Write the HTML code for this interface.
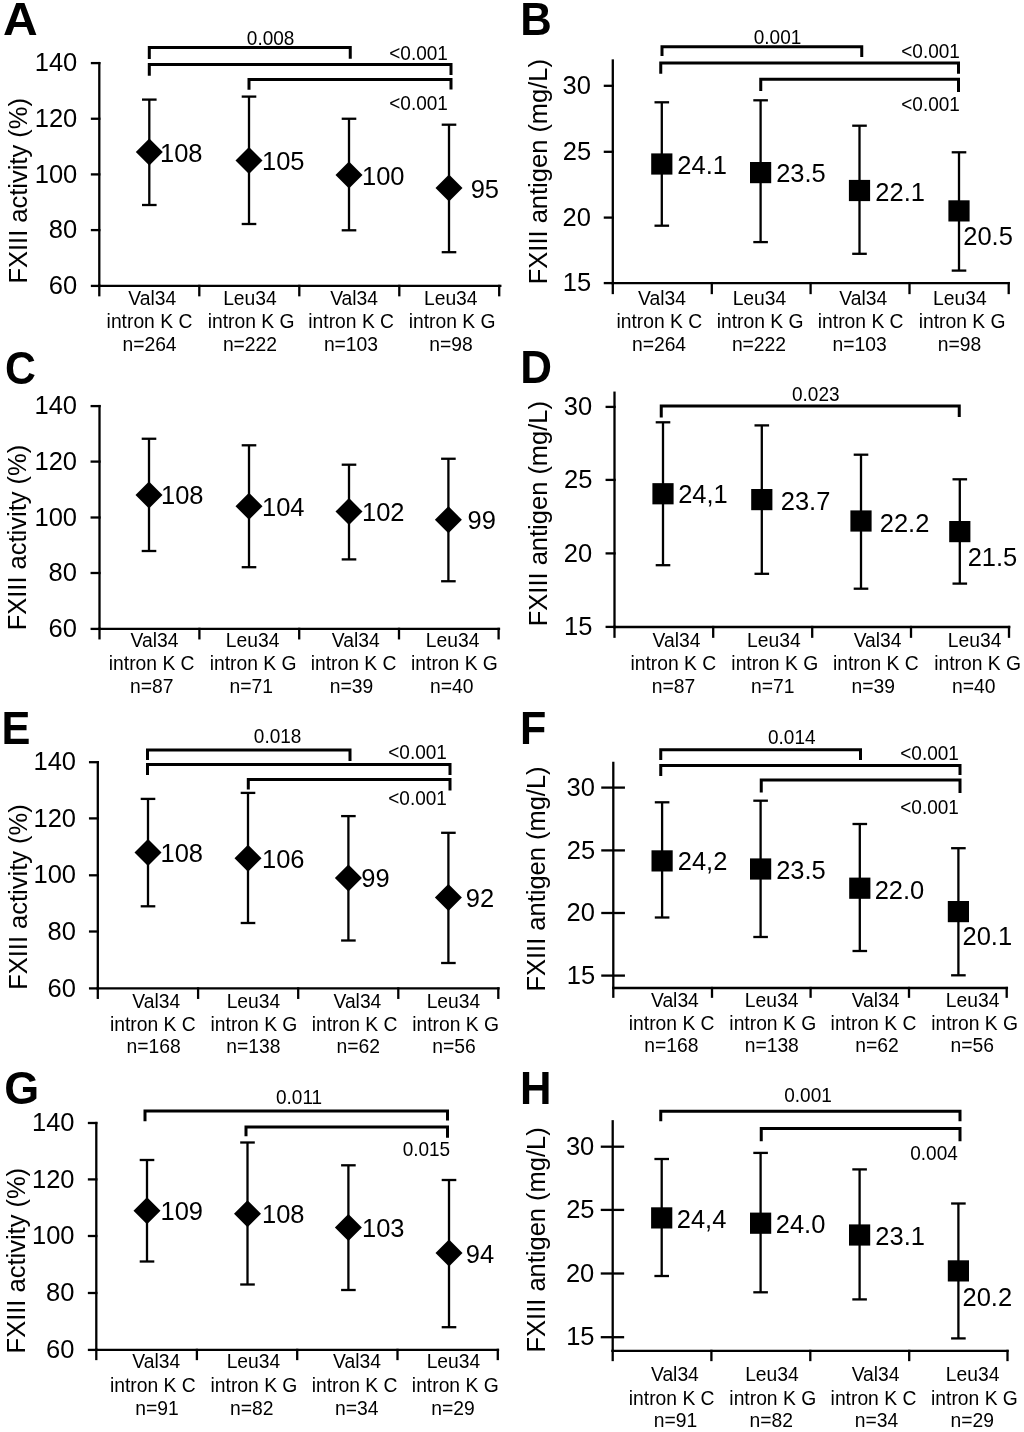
<!DOCTYPE html>
<html><head><meta charset="utf-8"><title>FXIII figure</title>
<style>
html,body{margin:0;padding:0;background:#fff;}
body{width:1024px;height:1432px;overflow:hidden;}
svg{display:block;}
text{font-family:'Liberation Sans', Arial, Helvetica, sans-serif;fill:#000;}
</style></head><body>
<svg width="1024" height="1432" viewBox="0 0 1024 1432">
<rect width="1024" height="1432" fill="#fff"/>
<text transform="translate(2.9,34.9) scale(1.0439,1)" font-size="46" font-weight="bold">A</text>
<g stroke="#000" stroke-linecap="square" fill="none">
<line x1="99.3" y1="63.1" x2="99.3" y2="285.9" stroke-width="2.3"/>
<line x1="99.3" y1="285.9" x2="500.3" y2="285.9" stroke-width="2.3"/>
<line x1="92" y1="63.1" x2="99.3" y2="63.1" stroke-width="2.3"/>
<line x1="92" y1="118.75" x2="99.3" y2="118.75" stroke-width="2.3"/>
<line x1="92" y1="174.4" x2="99.3" y2="174.4" stroke-width="2.3"/>
<line x1="92" y1="230.1" x2="99.3" y2="230.1" stroke-width="2.3"/>
<line x1="92" y1="285.9" x2="99.3" y2="285.9" stroke-width="2.3"/>
<line x1="99.3" y1="285.9" x2="99.3" y2="295.2" stroke-width="2.3"/>
<line x1="199.3" y1="285.9" x2="199.3" y2="295.2" stroke-width="2.3"/>
<line x1="299.3" y1="285.9" x2="299.3" y2="295.2" stroke-width="2.3"/>
<line x1="399.3" y1="285.9" x2="399.3" y2="295.2" stroke-width="2.3"/>
<line x1="499.2" y1="285.9" x2="499.2" y2="295.2" stroke-width="2.3"/>
</g>
<text transform="translate(34.75,71.2) scale(1,1.04)" font-size="25.5">140</text>
<text transform="translate(34.75,126.85) scale(1,1.04)" font-size="25.5">120</text>
<text transform="translate(34.75,182.5) scale(1,1.04)" font-size="25.5">100</text>
<text transform="translate(48.75,238.2) scale(1,1.04)" font-size="25.5">80</text>
<text transform="translate(48.75,294) scale(1,1.04)" font-size="25.5">60</text>
<g stroke="#000" fill="none">
<line x1="149.3" y1="99.6" x2="149.3" y2="205" stroke-width="2.3"/>
<line x1="142" y1="99.6" x2="156.6" y2="99.6" stroke-width="2.3"/>
<line x1="142" y1="205" x2="156.6" y2="205" stroke-width="2.3"/>
<line x1="249" y1="96.6" x2="249" y2="224" stroke-width="2.3"/>
<line x1="241.7" y1="96.6" x2="256.3" y2="96.6" stroke-width="2.3"/>
<line x1="241.7" y1="224" x2="256.3" y2="224" stroke-width="2.3"/>
<line x1="349" y1="118.75" x2="349" y2="230.3" stroke-width="2.3"/>
<line x1="341.7" y1="118.75" x2="356.3" y2="118.75" stroke-width="2.3"/>
<line x1="341.7" y1="230.3" x2="356.3" y2="230.3" stroke-width="2.3"/>
<line x1="449" y1="124.7" x2="449" y2="252.2" stroke-width="2.3"/>
<line x1="441.7" y1="124.7" x2="456.3" y2="124.7" stroke-width="2.3"/>
<line x1="441.7" y1="252.2" x2="456.3" y2="252.2" stroke-width="2.3"/>
</g>
<path d="M149.3 138.6L162.8 152.1L149.3 165.6L135.8 152.1Z"/>
<path d="M249 147.1L262.5 160.6L249 174.1L235.5 160.6Z"/>
<path d="M349 161.5L362.5 175L349 188.5L335.5 175Z"/>
<path d="M449 174.5L462.5 188L449 201.5L435.5 188Z"/>
<text transform="translate(160,161.55) scale(1,1.04)" font-size="25.5">108</text>
<text transform="translate(262,170.1) scale(1,1.04)" font-size="25.5">105</text>
<text transform="translate(362,184.6) scale(1,1.04)" font-size="25.5">100</text>
<text transform="translate(470.65,197.6) scale(1,1.04)" font-size="25.5">95</text>
<g stroke="#000" fill="none" stroke-linejoin="miter" stroke-linecap="butt">
<path d="M149.3 59V47.5H350.25V58.75" stroke-width="3.0"/>
<path d="M149.3 75.7V64.5H451V75" stroke-width="3.0"/>
<path d="M249 89.7V79.5H451V89.5" stroke-width="3.0"/>
</g>
<text transform="translate(246.85,44.6) scale(1,1.04)" font-size="19">0.008</text>
<text transform="translate(389.25,60) scale(1,1.04)" font-size="19">&lt;0.001</text>
<text transform="translate(389.25,110) scale(1,1.04)" font-size="19">&lt;0.001</text>
<text transform="translate(128.35,304.8) scale(1,1.04)" font-size="19.3">Val34</text>
<text transform="translate(106.6,328) scale(1,1.04)" font-size="19.3">intron K C</text>
<text transform="translate(122.43,350.6) scale(1,1.04)" font-size="19.3">n=264</text>
<text transform="translate(223.15,304.8) scale(1,1.04)" font-size="19.3">Leu34</text>
<text transform="translate(207.65,328) scale(1,1.04)" font-size="19.3">intron K G</text>
<text transform="translate(222.88,350.6) scale(1,1.04)" font-size="19.3">n=222</text>
<text transform="translate(330.15,304.8) scale(1,1.04)" font-size="19.3">Val34</text>
<text transform="translate(308.3,328) scale(1,1.04)" font-size="19.3">intron K C</text>
<text transform="translate(323.88,350.6) scale(1,1.04)" font-size="19.3">n=103</text>
<text transform="translate(423.95,304.8) scale(1,1.04)" font-size="19.3">Leu34</text>
<text transform="translate(408.75,328) scale(1,1.04)" font-size="19.3">intron K G</text>
<text transform="translate(429.32,350.6) scale(1,1.04)" font-size="19.3">n=98</text>
<text transform="translate(27,283.6) rotate(-90) scale(1,1.04)" font-size="25.5">FXIII activity (%)</text>
<text transform="translate(520.25,34.8) scale(0.9487,1)" font-size="46" font-weight="bold">B</text>
<g stroke="#000" stroke-linecap="square" fill="none">
<line x1="612.8" y1="60.5" x2="612.8" y2="283.1" stroke-width="2.3"/>
<line x1="612.8" y1="283.1" x2="1008.7" y2="283.1" stroke-width="2.3"/>
<line x1="604.9" y1="85.8" x2="612.8" y2="85.8" stroke-width="2.3"/>
<line x1="604.9" y1="151.8" x2="612.8" y2="151.8" stroke-width="2.3"/>
<line x1="604.9" y1="217.6" x2="612.8" y2="217.6" stroke-width="2.3"/>
<line x1="604.9" y1="283.1" x2="612.8" y2="283.1" stroke-width="2.3"/>
<line x1="612.8" y1="283.1" x2="612.8" y2="293" stroke-width="2.3"/>
<line x1="711.8" y1="283.1" x2="711.8" y2="293" stroke-width="2.3"/>
<line x1="810.6" y1="283.1" x2="810.6" y2="293" stroke-width="2.3"/>
<line x1="909.5" y1="283.1" x2="909.5" y2="293" stroke-width="2.3"/>
<line x1="1008.7" y1="283.1" x2="1008.7" y2="293" stroke-width="2.3"/>
</g>
<text transform="translate(562.5,93.9) scale(1,1.04)" font-size="25.5">30</text>
<text transform="translate(562.75,159.9) scale(1,1.04)" font-size="25.5">25</text>
<text transform="translate(562.5,225.7) scale(1,1.04)" font-size="25.5">20</text>
<text transform="translate(562.75,291.2) scale(1,1.04)" font-size="25.5">15</text>
<g stroke="#000" fill="none">
<line x1="661.8" y1="102.3" x2="661.8" y2="225.7" stroke-width="2.3"/>
<line x1="654.5" y1="102.3" x2="669.1" y2="102.3" stroke-width="2.3"/>
<line x1="654.5" y1="225.7" x2="669.1" y2="225.7" stroke-width="2.3"/>
<line x1="760.6" y1="100.3" x2="760.6" y2="242.1" stroke-width="2.3"/>
<line x1="753.3" y1="100.3" x2="767.9" y2="100.3" stroke-width="2.3"/>
<line x1="753.3" y1="242.1" x2="767.9" y2="242.1" stroke-width="2.3"/>
<line x1="859.5" y1="125.7" x2="859.5" y2="253.8" stroke-width="2.3"/>
<line x1="852.2" y1="125.7" x2="866.8" y2="125.7" stroke-width="2.3"/>
<line x1="852.2" y1="253.8" x2="866.8" y2="253.8" stroke-width="2.3"/>
<line x1="959" y1="152.3" x2="959" y2="270.6" stroke-width="2.3"/>
<line x1="951.7" y1="152.3" x2="966.3" y2="152.3" stroke-width="2.3"/>
<line x1="951.7" y1="270.6" x2="966.3" y2="270.6" stroke-width="2.3"/>
</g>
<rect x="651.2" y="153.4" width="21.2" height="21.2"/>
<rect x="750" y="162" width="21.2" height="21.2"/>
<rect x="848.9" y="179.9" width="21.2" height="21.2"/>
<rect x="948.4" y="200.3" width="21.2" height="21.2"/>
<text transform="translate(677.35,174.23) scale(1,1.04)" font-size="25.5">24.1</text>
<text transform="translate(776.15,182.1) scale(1,1.04)" font-size="25.5">23.5</text>
<text transform="translate(875.35,200.53) scale(1,1.04)" font-size="25.5">22.1</text>
<text transform="translate(963.25,245.35) scale(1,1.04)" font-size="25.5">20.5</text>
<g stroke="#000" fill="none" stroke-linejoin="miter" stroke-linecap="butt">
<path d="M662 56V46.75H861.75V57" stroke-width="3.0"/>
<path d="M660.75 73.75V63H958.5V73.75" stroke-width="3.0"/>
<path d="M760.75 91V79.25H958.5V92" stroke-width="3.0"/>
</g>
<text transform="translate(753.75,43.75) scale(1,1.04)" font-size="19">0.001</text>
<text transform="translate(901.25,58) scale(1,1.04)" font-size="19">&lt;0.001</text>
<text transform="translate(901.25,111) scale(1,1.04)" font-size="19">&lt;0.001</text>
<text transform="translate(638.05,305.3) scale(1,1.04)" font-size="19.3">Val34</text>
<text transform="translate(616.4,328) scale(1,1.04)" font-size="19.3">intron K C</text>
<text transform="translate(631.92,351) scale(1,1.04)" font-size="19.3">n=264</text>
<text transform="translate(732.65,305.3) scale(1,1.04)" font-size="19.3">Leu34</text>
<text transform="translate(716.75,328) scale(1,1.04)" font-size="19.3">intron K G</text>
<text transform="translate(731.88,351) scale(1,1.04)" font-size="19.3">n=222</text>
<text transform="translate(839.25,305.3) scale(1,1.04)" font-size="19.3">Val34</text>
<text transform="translate(817.8,328) scale(1,1.04)" font-size="19.3">intron K C</text>
<text transform="translate(832.58,351) scale(1,1.04)" font-size="19.3">n=103</text>
<text transform="translate(933.05,305.3) scale(1,1.04)" font-size="19.3">Leu34</text>
<text transform="translate(918.65,328) scale(1,1.04)" font-size="19.3">intron K G</text>
<text transform="translate(937.83,351) scale(1,1.04)" font-size="19.3">n=98</text>
<text transform="translate(547,284.2) rotate(-90) scale(1,1.04)" font-size="25.5">FXIII antigen (mg/L)</text>
<text transform="translate(4.94,383.6) scale(0.9300,1)" font-size="46" font-weight="bold">C</text>
<g stroke="#000" stroke-linecap="square" fill="none">
<line x1="99.5" y1="406.1" x2="99.5" y2="628.9" stroke-width="2.3"/>
<line x1="99.5" y1="628.9" x2="499" y2="628.9" stroke-width="2.3"/>
<line x1="91.7" y1="406.1" x2="99.5" y2="406.1" stroke-width="2.3"/>
<line x1="91.7" y1="461.6" x2="99.5" y2="461.6" stroke-width="2.3"/>
<line x1="91.7" y1="517.5" x2="99.5" y2="517.5" stroke-width="2.3"/>
<line x1="91.7" y1="573" x2="99.5" y2="573" stroke-width="2.3"/>
<line x1="91.7" y1="628.9" x2="99.5" y2="628.9" stroke-width="2.3"/>
<line x1="99.5" y1="628.9" x2="99.5" y2="638.3" stroke-width="2.3"/>
<line x1="199.4" y1="628.9" x2="199.4" y2="638.3" stroke-width="2.3"/>
<line x1="299.2" y1="628.9" x2="299.2" y2="638.3" stroke-width="2.3"/>
<line x1="399" y1="628.9" x2="399" y2="638.3" stroke-width="2.3"/>
<line x1="498.6" y1="628.9" x2="498.6" y2="638.3" stroke-width="2.3"/>
</g>
<text transform="translate(34.5,414.2) scale(1,1.04)" font-size="25.5">140</text>
<text transform="translate(34.5,469.7) scale(1,1.04)" font-size="25.5">120</text>
<text transform="translate(34.5,525.6) scale(1,1.04)" font-size="25.5">100</text>
<text transform="translate(48.5,581.1) scale(1,1.04)" font-size="25.5">80</text>
<text transform="translate(48.5,637) scale(1,1.04)" font-size="25.5">60</text>
<g stroke="#000" fill="none">
<line x1="149" y1="438.75" x2="149" y2="551" stroke-width="2.3"/>
<line x1="141.7" y1="438.75" x2="156.3" y2="438.75" stroke-width="2.3"/>
<line x1="141.7" y1="551" x2="156.3" y2="551" stroke-width="2.3"/>
<line x1="249" y1="445.3" x2="249" y2="567.2" stroke-width="2.3"/>
<line x1="241.7" y1="445.3" x2="256.3" y2="445.3" stroke-width="2.3"/>
<line x1="241.7" y1="567.2" x2="256.3" y2="567.2" stroke-width="2.3"/>
<line x1="349" y1="464.7" x2="349" y2="559.4" stroke-width="2.3"/>
<line x1="341.7" y1="464.7" x2="356.3" y2="464.7" stroke-width="2.3"/>
<line x1="341.7" y1="559.4" x2="356.3" y2="559.4" stroke-width="2.3"/>
<line x1="448.4" y1="458.75" x2="448.4" y2="581.25" stroke-width="2.3"/>
<line x1="441.1" y1="458.75" x2="455.7" y2="458.75" stroke-width="2.3"/>
<line x1="441.1" y1="581.25" x2="455.7" y2="581.25" stroke-width="2.3"/>
</g>
<path d="M149 481.5L162.5 495L149 508.5L135.5 495Z"/>
<path d="M249 492.75L262.5 506.25L249 519.75L235.5 506.25Z"/>
<path d="M349 498.1L362.5 511.6L349 525.1L335.5 511.6Z"/>
<path d="M448.4 506.2L461.9 519.7L448.4 533.2L434.9 519.7Z"/>
<text transform="translate(161,504.1) scale(1,1.04)" font-size="25.5">108</text>
<text transform="translate(262,515.6) scale(1,1.04)" font-size="25.5">104</text>
<text transform="translate(362,521.1) scale(1,1.04)" font-size="25.5">102</text>
<text transform="translate(467.5,529.1) scale(1,1.04)" font-size="25.5">99</text>
<g stroke="#000" fill="none" stroke-linejoin="miter" stroke-linecap="butt">
</g>
<text transform="translate(130.55,646.9) scale(1,1.04)" font-size="19.3">Val34</text>
<text transform="translate(108.8,670) scale(1,1.04)" font-size="19.3">intron K C</text>
<text transform="translate(129.93,692.5) scale(1,1.04)" font-size="19.3">n=87</text>
<text transform="translate(225.75,646.9) scale(1,1.04)" font-size="19.3">Leu34</text>
<text transform="translate(209.65,670) scale(1,1.04)" font-size="19.3">intron K G</text>
<text transform="translate(229.53,692.5) scale(1,1.04)" font-size="19.3">n=71</text>
<text transform="translate(331.75,646.9) scale(1,1.04)" font-size="19.3">Val34</text>
<text transform="translate(310.7,670) scale(1,1.04)" font-size="19.3">intron K C</text>
<text transform="translate(329.73,692.5) scale(1,1.04)" font-size="19.3">n=39</text>
<text transform="translate(425.85,646.9) scale(1,1.04)" font-size="19.3">Leu34</text>
<text transform="translate(411.05,670) scale(1,1.04)" font-size="19.3">intron K G</text>
<text transform="translate(430.1,692.5) scale(1,1.04)" font-size="19.3">n=40</text>
<text transform="translate(26.2,630.3) rotate(-90) scale(1,1.04)" font-size="25.5">FXIII activity (%)</text>
<text transform="translate(520.23,383.3) scale(0.9558,1)" font-size="46" font-weight="bold">D</text>
<g stroke="#000" stroke-linecap="square" fill="none">
<line x1="614.5" y1="392.7" x2="614.5" y2="627" stroke-width="2.3"/>
<line x1="614.5" y1="627" x2="1009.2" y2="627" stroke-width="2.3"/>
<line x1="606.7" y1="406.9" x2="614.5" y2="406.9" stroke-width="2.3"/>
<line x1="606.7" y1="479.9" x2="614.5" y2="479.9" stroke-width="2.3"/>
<line x1="606.7" y1="553.4" x2="614.5" y2="553.4" stroke-width="2.3"/>
<line x1="606.7" y1="626.9" x2="614.5" y2="626.9" stroke-width="2.3"/>
<line x1="614.5" y1="627" x2="614.5" y2="636.7" stroke-width="2.3"/>
<line x1="713.2" y1="627" x2="713.2" y2="636.7" stroke-width="2.3"/>
<line x1="812.2" y1="627" x2="812.2" y2="636.7" stroke-width="2.3"/>
<line x1="911" y1="627" x2="911" y2="636.7" stroke-width="2.3"/>
<line x1="1009" y1="627" x2="1009" y2="636.7" stroke-width="2.3"/>
</g>
<text transform="translate(563.75,415) scale(1,1.04)" font-size="25.5">30</text>
<text transform="translate(564,488) scale(1,1.04)" font-size="25.5">25</text>
<text transform="translate(563.75,561.5) scale(1,1.04)" font-size="25.5">20</text>
<text transform="translate(564,635) scale(1,1.04)" font-size="25.5">15</text>
<g stroke="#000" fill="none">
<line x1="663" y1="422.3" x2="663" y2="565.2" stroke-width="2.3"/>
<line x1="655.7" y1="422.3" x2="670.3" y2="422.3" stroke-width="2.3"/>
<line x1="655.7" y1="565.2" x2="670.3" y2="565.2" stroke-width="2.3"/>
<line x1="761.8" y1="425.4" x2="761.8" y2="573.8" stroke-width="2.3"/>
<line x1="754.5" y1="425.4" x2="769.1" y2="425.4" stroke-width="2.3"/>
<line x1="754.5" y1="573.8" x2="769.1" y2="573.8" stroke-width="2.3"/>
<line x1="861" y1="454.7" x2="861" y2="588.7" stroke-width="2.3"/>
<line x1="853.7" y1="454.7" x2="868.3" y2="454.7" stroke-width="2.3"/>
<line x1="853.7" y1="588.7" x2="868.3" y2="588.7" stroke-width="2.3"/>
<line x1="959.8" y1="479.3" x2="959.8" y2="583.6" stroke-width="2.3"/>
<line x1="952.5" y1="479.3" x2="967.1" y2="479.3" stroke-width="2.3"/>
<line x1="952.5" y1="583.6" x2="967.1" y2="583.6" stroke-width="2.3"/>
</g>
<rect x="652.4" y="483.15" width="21.2" height="21.2"/>
<rect x="751.2" y="489" width="21.2" height="21.2"/>
<rect x="850.4" y="510.4" width="21.2" height="21.2"/>
<rect x="949.2" y="521" width="21.2" height="21.2"/>
<text transform="translate(678.15,502.54) scale(1,1.04)" font-size="25.5">24,1</text>
<text transform="translate(780.75,509.9) scale(1,1.04)" font-size="25.5">23.7</text>
<text transform="translate(879.75,532.23) scale(1,1.04)" font-size="25.5">22.2</text>
<text transform="translate(967.65,565.6) scale(1,1.04)" font-size="25.5">21.5</text>
<g stroke="#000" fill="none" stroke-linejoin="miter" stroke-linecap="butt">
<path d="M661.25 417.5V406H959.25V417" stroke-width="3.0"/>
</g>
<text transform="translate(792,401.25) scale(1,1.04)" font-size="19">0.023</text>
<text transform="translate(652.55,646.9) scale(1,1.04)" font-size="19.3">Val34</text>
<text transform="translate(630.5,670) scale(1,1.04)" font-size="19.3">intron K C</text>
<text transform="translate(651.83,693) scale(1,1.04)" font-size="19.3">n=87</text>
<text transform="translate(747.05,646.9) scale(1,1.04)" font-size="19.3">Leu34</text>
<text transform="translate(731.35,670) scale(1,1.04)" font-size="19.3">intron K G</text>
<text transform="translate(750.92,693) scale(1,1.04)" font-size="19.3">n=71</text>
<text transform="translate(853.65,646.9) scale(1,1.04)" font-size="19.3">Val34</text>
<text transform="translate(833,670) scale(1,1.04)" font-size="19.3">intron K C</text>
<text transform="translate(851.42,693) scale(1,1.04)" font-size="19.3">n=39</text>
<text transform="translate(947.85,646.9) scale(1,1.04)" font-size="19.3">Leu34</text>
<text transform="translate(934.25,670) scale(1,1.04)" font-size="19.3">intron K G</text>
<text transform="translate(952.1,693) scale(1,1.04)" font-size="19.3">n=40</text>
<text transform="translate(547.3,626.2) rotate(-90) scale(1,1.04)" font-size="25.5">FXIII antigen (mg/L)</text>
<text transform="translate(1.47,743.7) scale(0.9423,1)" font-size="46" font-weight="bold">E</text>
<g stroke="#000" stroke-linecap="square" fill="none">
<line x1="97.8" y1="762.2" x2="97.8" y2="988.4" stroke-width="2.3"/>
<line x1="97.8" y1="988.4" x2="498.5" y2="988.4" stroke-width="2.3"/>
<line x1="90.1" y1="762.2" x2="97.8" y2="762.2" stroke-width="2.3"/>
<line x1="90.1" y1="818.4" x2="97.8" y2="818.4" stroke-width="2.3"/>
<line x1="90.1" y1="875.3" x2="97.8" y2="875.3" stroke-width="2.3"/>
<line x1="90.1" y1="931.5" x2="97.8" y2="931.5" stroke-width="2.3"/>
<line x1="90.1" y1="988.4" x2="97.8" y2="988.4" stroke-width="2.3"/>
<line x1="97.8" y1="988.4" x2="97.8" y2="997.8" stroke-width="2.3"/>
<line x1="198.1" y1="988.4" x2="198.1" y2="997.8" stroke-width="2.3"/>
<line x1="298.2" y1="988.4" x2="298.2" y2="997.8" stroke-width="2.3"/>
<line x1="398.3" y1="988.4" x2="398.3" y2="997.8" stroke-width="2.3"/>
<line x1="498.3" y1="988.4" x2="498.3" y2="997.8" stroke-width="2.3"/>
</g>
<text transform="translate(33.5,770.3) scale(1,1.04)" font-size="25.5">140</text>
<text transform="translate(33.5,826.5) scale(1,1.04)" font-size="25.5">120</text>
<text transform="translate(33.5,883.4) scale(1,1.04)" font-size="25.5">100</text>
<text transform="translate(47.5,939.6) scale(1,1.04)" font-size="25.5">80</text>
<text transform="translate(47.5,996.5) scale(1,1.04)" font-size="25.5">60</text>
<g stroke="#000" fill="none">
<line x1="148" y1="798.9" x2="148" y2="906.3" stroke-width="2.3"/>
<line x1="140.7" y1="798.9" x2="155.3" y2="798.9" stroke-width="2.3"/>
<line x1="140.7" y1="906.3" x2="155.3" y2="906.3" stroke-width="2.3"/>
<line x1="248" y1="792.9" x2="248" y2="923" stroke-width="2.3"/>
<line x1="240.7" y1="792.9" x2="255.3" y2="792.9" stroke-width="2.3"/>
<line x1="240.7" y1="923" x2="255.3" y2="923" stroke-width="2.3"/>
<line x1="348.4" y1="816.1" x2="348.4" y2="940.5" stroke-width="2.3"/>
<line x1="341.1" y1="816.1" x2="355.7" y2="816.1" stroke-width="2.3"/>
<line x1="341.1" y1="940.5" x2="355.7" y2="940.5" stroke-width="2.3"/>
<line x1="448.4" y1="832.8" x2="448.4" y2="963" stroke-width="2.3"/>
<line x1="441.1" y1="832.8" x2="455.7" y2="832.8" stroke-width="2.3"/>
<line x1="441.1" y1="963" x2="455.7" y2="963" stroke-width="2.3"/>
</g>
<path d="M148 839L161.5 852.5L148 866L134.5 852.5Z"/>
<path d="M248 844.7L261.5 858.2L248 871.7L234.5 858.2Z"/>
<path d="M348.4 864.4L361.9 877.9L348.4 891.4L334.9 877.9Z"/>
<path d="M448.4 884.1L461.9 897.6L448.4 911.1L434.9 897.6Z"/>
<text transform="translate(160.5,861.6) scale(1,1.04)" font-size="25.5">108</text>
<text transform="translate(262,867.6) scale(1,1.04)" font-size="25.5">106</text>
<text transform="translate(361.25,887.1) scale(1,1.04)" font-size="25.5">99</text>
<text transform="translate(465.75,907.1) scale(1,1.04)" font-size="25.5">92</text>
<g stroke="#000" fill="none" stroke-linejoin="miter" stroke-linecap="butt">
<path d="M147.5 760V750H350V761" stroke-width="3.0"/>
<path d="M147.5 775V764.6H450V775" stroke-width="3.0"/>
<path d="M248.3 789.5V779.6H450V790.6" stroke-width="3.0"/>
</g>
<text transform="translate(253.85,743) scale(1,1.04)" font-size="19">0.018</text>
<text transform="translate(388.25,759.4) scale(1,1.04)" font-size="19">&lt;0.001</text>
<text transform="translate(388.25,804.7) scale(1,1.04)" font-size="19">&lt;0.001</text>
<text transform="translate(132.35,1008.3) scale(1,1.04)" font-size="19.3">Val34</text>
<text transform="translate(110,1031.2) scale(1,1.04)" font-size="19.3">intron K C</text>
<text transform="translate(126.57,1053.1) scale(1,1.04)" font-size="19.3">n=168</text>
<text transform="translate(226.65,1008.3) scale(1,1.04)" font-size="19.3">Leu34</text>
<text transform="translate(210.55,1031.2) scale(1,1.04)" font-size="19.3">intron K G</text>
<text transform="translate(226.28,1053.1) scale(1,1.04)" font-size="19.3">n=138</text>
<text transform="translate(333.45,1008.3) scale(1,1.04)" font-size="19.3">Val34</text>
<text transform="translate(311.7,1031.2) scale(1,1.04)" font-size="19.3">intron K C</text>
<text transform="translate(336.52,1053.1) scale(1,1.04)" font-size="19.3">n=62</text>
<text transform="translate(426.65,1008.3) scale(1,1.04)" font-size="19.3">Leu34</text>
<text transform="translate(412.25,1031.2) scale(1,1.04)" font-size="19.3">intron K G</text>
<text transform="translate(432.23,1053.1) scale(1,1.04)" font-size="19.3">n=56</text>
<text transform="translate(27.2,989.8) rotate(-90) scale(1,1.04)" font-size="25.5">FXIII activity (%)</text>
<text transform="translate(519.99,743.7) scale(0.9362,1)" font-size="46" font-weight="bold">F</text>
<g stroke="#000" stroke-linecap="square" fill="none">
<line x1="613.3" y1="762.9" x2="613.3" y2="988" stroke-width="2.3"/>
<line x1="613.3" y1="988" x2="1006.9" y2="988" stroke-width="2.3"/>
<line x1="602.4" y1="787.6" x2="623.8" y2="787.6" stroke-width="2.3"/>
<line x1="602.4" y1="850.4" x2="623.8" y2="850.4" stroke-width="2.3"/>
<line x1="602.4" y1="913" x2="623.8" y2="913" stroke-width="2.3"/>
<line x1="602.4" y1="975.6" x2="623.8" y2="975.6" stroke-width="2.3"/>
<line x1="613.3" y1="988" x2="613.3" y2="996.7" stroke-width="2.3"/>
<line x1="712" y1="988" x2="712" y2="996.7" stroke-width="2.3"/>
<line x1="810.6" y1="988" x2="810.6" y2="996.7" stroke-width="2.3"/>
<line x1="909" y1="988" x2="909" y2="996.7" stroke-width="2.3"/>
<line x1="1006.7" y1="988" x2="1006.7" y2="996.7" stroke-width="2.3"/>
</g>
<text transform="translate(566.5,795.7) scale(1,1.04)" font-size="25.5">30</text>
<text transform="translate(566.75,858.5) scale(1,1.04)" font-size="25.5">25</text>
<text transform="translate(566.5,921.1) scale(1,1.04)" font-size="25.5">20</text>
<text transform="translate(566.75,983.7) scale(1,1.04)" font-size="25.5">15</text>
<g stroke="#000" fill="none">
<line x1="662.1" y1="802.3" x2="662.1" y2="917.5" stroke-width="2.3"/>
<line x1="654.8" y1="802.3" x2="669.4" y2="802.3" stroke-width="2.3"/>
<line x1="654.8" y1="917.5" x2="669.4" y2="917.5" stroke-width="2.3"/>
<line x1="760.6" y1="800.7" x2="760.6" y2="937" stroke-width="2.3"/>
<line x1="753.3" y1="800.7" x2="767.9" y2="800.7" stroke-width="2.3"/>
<line x1="753.3" y1="937" x2="767.9" y2="937" stroke-width="2.3"/>
<line x1="859.8" y1="824" x2="859.8" y2="951" stroke-width="2.3"/>
<line x1="852.5" y1="824" x2="867.1" y2="824" stroke-width="2.3"/>
<line x1="852.5" y1="951" x2="867.1" y2="951" stroke-width="2.3"/>
<line x1="958.4" y1="848.2" x2="958.4" y2="975.3" stroke-width="2.3"/>
<line x1="951.1" y1="848.2" x2="965.7" y2="848.2" stroke-width="2.3"/>
<line x1="951.1" y1="975.3" x2="965.7" y2="975.3" stroke-width="2.3"/>
</g>
<rect x="651.5" y="850.3" width="21.2" height="21.2"/>
<rect x="750" y="858.4" width="21.2" height="21.2"/>
<rect x="849.2" y="877.6" width="21.2" height="21.2"/>
<rect x="947.8" y="901" width="21.2" height="21.2"/>
<text transform="translate(677.75,869.54) scale(1,1.04)" font-size="25.5">24,2</text>
<text transform="translate(776.15,878.9) scale(1,1.04)" font-size="25.5">23.5</text>
<text transform="translate(874.65,898.5) scale(1,1.04)" font-size="25.5">22.0</text>
<text transform="translate(962.5,945.35) scale(1,1.04)" font-size="25.5">20.1</text>
<g stroke="#000" fill="none" stroke-linejoin="miter" stroke-linecap="butt">
<path d="M660.75 760V749.75H860.5V760" stroke-width="3.0"/>
<path d="M660.75 776V765.5H960V775" stroke-width="3.0"/>
<path d="M761.25 792.5V780H960V793" stroke-width="3.0"/>
</g>
<text transform="translate(768,743.75) scale(1,1.04)" font-size="19">0.014</text>
<text transform="translate(900.25,759.5) scale(1,1.04)" font-size="19">&lt;0.001</text>
<text transform="translate(900.25,813.75) scale(1,1.04)" font-size="19">&lt;0.001</text>
<text transform="translate(650.95,1007.4) scale(1,1.04)" font-size="19.3">Val34</text>
<text transform="translate(628.8,1029.9) scale(1,1.04)" font-size="19.3">intron K C</text>
<text transform="translate(644.27,1052) scale(1,1.04)" font-size="19.3">n=168</text>
<text transform="translate(744.75,1007.4) scale(1,1.04)" font-size="19.3">Leu34</text>
<text transform="translate(729.35,1029.9) scale(1,1.04)" font-size="19.3">intron K G</text>
<text transform="translate(744.67,1052) scale(1,1.04)" font-size="19.3">n=138</text>
<text transform="translate(851.65,1007.4) scale(1,1.04)" font-size="19.3">Val34</text>
<text transform="translate(830.6,1029.9) scale(1,1.04)" font-size="19.3">intron K C</text>
<text transform="translate(855.33,1052) scale(1,1.04)" font-size="19.3">n=62</text>
<text transform="translate(945.85,1007.4) scale(1,1.04)" font-size="19.3">Leu34</text>
<text transform="translate(931.15,1029.9) scale(1,1.04)" font-size="19.3">intron K G</text>
<text transform="translate(950.62,1052) scale(1,1.04)" font-size="19.3">n=56</text>
<text transform="translate(545,991.6) rotate(-90) scale(1,1.04)" font-size="25.5">FXIII antigen (mg/L)</text>
<text transform="translate(4.35,1104) scale(0.9774,1)" font-size="46" font-weight="bold">G</text>
<g stroke="#000" stroke-linecap="square" fill="none">
<line x1="96.3" y1="1123" x2="96.3" y2="1349.9" stroke-width="2.3"/>
<line x1="96.3" y1="1349.9" x2="498" y2="1349.9" stroke-width="2.3"/>
<line x1="89" y1="1123" x2="96.3" y2="1123" stroke-width="2.3"/>
<line x1="89" y1="1179.4" x2="96.3" y2="1179.4" stroke-width="2.3"/>
<line x1="89" y1="1236" x2="96.3" y2="1236" stroke-width="2.3"/>
<line x1="89" y1="1293" x2="96.3" y2="1293" stroke-width="2.3"/>
<line x1="89" y1="1349.9" x2="96.3" y2="1349.9" stroke-width="2.3"/>
<line x1="96.3" y1="1349.9" x2="96.3" y2="1359" stroke-width="2.3"/>
<line x1="196.9" y1="1349.9" x2="196.9" y2="1359" stroke-width="2.3"/>
<line x1="297.2" y1="1349.9" x2="297.2" y2="1359" stroke-width="2.3"/>
<line x1="397.5" y1="1349.9" x2="397.5" y2="1359" stroke-width="2.3"/>
<line x1="497.8" y1="1349.9" x2="497.8" y2="1359" stroke-width="2.3"/>
</g>
<text transform="translate(32,1131.1) scale(1,1.04)" font-size="25.5">140</text>
<text transform="translate(32,1187.5) scale(1,1.04)" font-size="25.5">120</text>
<text transform="translate(32,1244.1) scale(1,1.04)" font-size="25.5">100</text>
<text transform="translate(46,1301.1) scale(1,1.04)" font-size="25.5">80</text>
<text transform="translate(46,1358) scale(1,1.04)" font-size="25.5">60</text>
<g stroke="#000" fill="none">
<line x1="147" y1="1160" x2="147" y2="1261.5" stroke-width="2.3"/>
<line x1="139.7" y1="1160" x2="154.3" y2="1160" stroke-width="2.3"/>
<line x1="139.7" y1="1261.5" x2="154.3" y2="1261.5" stroke-width="2.3"/>
<line x1="247.5" y1="1142.5" x2="247.5" y2="1284.5" stroke-width="2.3"/>
<line x1="240.2" y1="1142.5" x2="254.8" y2="1142.5" stroke-width="2.3"/>
<line x1="240.2" y1="1284.5" x2="254.8" y2="1284.5" stroke-width="2.3"/>
<line x1="348.4" y1="1165.3" x2="348.4" y2="1290" stroke-width="2.3"/>
<line x1="341.1" y1="1165.3" x2="355.7" y2="1165.3" stroke-width="2.3"/>
<line x1="341.1" y1="1290" x2="355.7" y2="1290" stroke-width="2.3"/>
<line x1="449" y1="1180" x2="449" y2="1327.2" stroke-width="2.3"/>
<line x1="441.7" y1="1180" x2="456.3" y2="1180" stroke-width="2.3"/>
<line x1="441.7" y1="1327.2" x2="456.3" y2="1327.2" stroke-width="2.3"/>
</g>
<path d="M147 1197.25L160.5 1210.75L147 1224.25L133.5 1210.75Z"/>
<path d="M247.5 1200.25L261 1213.75L247.5 1227.25L234 1213.75Z"/>
<path d="M348.4 1214L361.9 1227.5L348.4 1241L334.9 1227.5Z"/>
<path d="M449 1239.4L462.5 1252.9L449 1266.4L435.5 1252.9Z"/>
<text transform="translate(160.5,1220.1) scale(1,1.04)" font-size="25.5">109</text>
<text transform="translate(262,1223.1) scale(1,1.04)" font-size="25.5">108</text>
<text transform="translate(362,1237.1) scale(1,1.04)" font-size="25.5">103</text>
<text transform="translate(465.75,1262.6) scale(1,1.04)" font-size="25.5">94</text>
<g stroke="#000" fill="none" stroke-linejoin="miter" stroke-linecap="butt">
<path d="M145 1121.25V1111H447.5V1120.6" stroke-width="3.0"/>
<path d="M246 1136.2V1126.9H447.5V1137.8" stroke-width="3.0"/>
</g>
<text transform="translate(276,1104.4) scale(1,1.04)" font-size="19">0.011</text>
<text transform="translate(402.65,1156) scale(1,1.04)" font-size="19">0.015</text>
<text transform="translate(132.35,1368.3) scale(1,1.04)" font-size="19.3">Val34</text>
<text transform="translate(110,1391.9) scale(1,1.04)" font-size="19.3">intron K C</text>
<text transform="translate(135.32,1415.2) scale(1,1.04)" font-size="19.3">n=91</text>
<text transform="translate(226.65,1368.3) scale(1,1.04)" font-size="19.3">Leu34</text>
<text transform="translate(210.55,1391.9) scale(1,1.04)" font-size="19.3">intron K G</text>
<text transform="translate(229.93,1415.2) scale(1,1.04)" font-size="19.3">n=82</text>
<text transform="translate(333.05,1368.3) scale(1,1.04)" font-size="19.3">Val34</text>
<text transform="translate(311.7,1391.9) scale(1,1.04)" font-size="19.3">intron K C</text>
<text transform="translate(335.07,1415.2) scale(1,1.04)" font-size="19.3">n=34</text>
<text transform="translate(426.65,1368.3) scale(1,1.04)" font-size="19.3">Leu34</text>
<text transform="translate(411.85,1391.9) scale(1,1.04)" font-size="19.3">intron K G</text>
<text transform="translate(431.23,1415.2) scale(1,1.04)" font-size="19.3">n=29</text>
<text transform="translate(24.5,1353.4) rotate(-90) scale(1,1.04)" font-size="25.5">FXIII activity (%)</text>
<text transform="translate(519.96,1104) scale(0.9481,1)" font-size="46" font-weight="bold">H</text>
<g stroke="#000" stroke-linecap="square" fill="none">
<line x1="612.7" y1="1121.3" x2="612.7" y2="1350.9" stroke-width="2.3"/>
<line x1="612.7" y1="1350.9" x2="1007.5" y2="1350.9" stroke-width="2.3"/>
<line x1="601.9" y1="1146.7" x2="623" y2="1146.7" stroke-width="2.3"/>
<line x1="601.9" y1="1209.9" x2="623" y2="1209.9" stroke-width="2.3"/>
<line x1="601.9" y1="1273.5" x2="623" y2="1273.5" stroke-width="2.3"/>
<line x1="601.9" y1="1337.2" x2="623" y2="1337.2" stroke-width="2.3"/>
<line x1="612.7" y1="1350.9" x2="612.7" y2="1360" stroke-width="2.3"/>
<line x1="711.4" y1="1350.9" x2="711.4" y2="1360" stroke-width="2.3"/>
<line x1="810.3" y1="1350.9" x2="810.3" y2="1360" stroke-width="2.3"/>
<line x1="909.2" y1="1350.9" x2="909.2" y2="1360" stroke-width="2.3"/>
<line x1="1007.5" y1="1350.9" x2="1007.5" y2="1360" stroke-width="2.3"/>
</g>
<text transform="translate(565.9,1154.8) scale(1,1.04)" font-size="25.5">30</text>
<text transform="translate(566.15,1218) scale(1,1.04)" font-size="25.5">25</text>
<text transform="translate(565.9,1281.6) scale(1,1.04)" font-size="25.5">20</text>
<text transform="translate(566.15,1345.3) scale(1,1.04)" font-size="25.5">15</text>
<g stroke="#000" fill="none">
<line x1="661.7" y1="1159" x2="661.7" y2="1276" stroke-width="2.3"/>
<line x1="654.4" y1="1159" x2="669" y2="1159" stroke-width="2.3"/>
<line x1="654.4" y1="1276" x2="669" y2="1276" stroke-width="2.3"/>
<line x1="760.6" y1="1152.9" x2="760.6" y2="1292.3" stroke-width="2.3"/>
<line x1="753.3" y1="1152.9" x2="767.9" y2="1152.9" stroke-width="2.3"/>
<line x1="753.3" y1="1292.3" x2="767.9" y2="1292.3" stroke-width="2.3"/>
<line x1="859.6" y1="1169.4" x2="859.6" y2="1299.4" stroke-width="2.3"/>
<line x1="852.3" y1="1169.4" x2="866.9" y2="1169.4" stroke-width="2.3"/>
<line x1="852.3" y1="1299.4" x2="866.9" y2="1299.4" stroke-width="2.3"/>
<line x1="958.4" y1="1203.5" x2="958.4" y2="1338.4" stroke-width="2.3"/>
<line x1="951.1" y1="1203.5" x2="965.7" y2="1203.5" stroke-width="2.3"/>
<line x1="951.1" y1="1338.4" x2="965.7" y2="1338.4" stroke-width="2.3"/>
</g>
<rect x="651.1" y="1207.3" width="21.2" height="21.2"/>
<rect x="750" y="1212.6" width="21.2" height="21.2"/>
<rect x="849" y="1224.4" width="21.2" height="21.2"/>
<rect x="947.8" y="1260.3" width="21.2" height="21.2"/>
<text transform="translate(676.75,1227.54) scale(1,1.04)" font-size="25.5">24,4</text>
<text transform="translate(775.75,1233.1) scale(1,1.04)" font-size="25.5">24.0</text>
<text transform="translate(875.35,1244.8) scale(1,1.04)" font-size="25.5">23.1</text>
<text transform="translate(962.5,1306.1) scale(1,1.04)" font-size="25.5">20.2</text>
<g stroke="#000" fill="none" stroke-linejoin="miter" stroke-linecap="butt">
<path d="M660.75 1121.25V1111.25H960V1121.25" stroke-width="3.0"/>
<path d="M761.25 1141.25V1128.4H960V1141.25" stroke-width="3.0"/>
</g>
<text transform="translate(784.25,1102) scale(1,1.04)" font-size="19">0.001</text>
<text transform="translate(910.25,1160) scale(1,1.04)" font-size="19">0.004</text>
<text transform="translate(650.95,1381.1) scale(1,1.04)" font-size="19.3">Val34</text>
<text transform="translate(628.8,1404.5) scale(1,1.04)" font-size="19.3">intron K C</text>
<text transform="translate(653.83,1427) scale(1,1.04)" font-size="19.3">n=91</text>
<text transform="translate(745.15,1381.1) scale(1,1.04)" font-size="19.3">Leu34</text>
<text transform="translate(729.35,1404.5) scale(1,1.04)" font-size="19.3">intron K G</text>
<text transform="translate(749.52,1427) scale(1,1.04)" font-size="19.3">n=82</text>
<text transform="translate(851.65,1381.1) scale(1,1.04)" font-size="19.3">Val34</text>
<text transform="translate(830.6,1404.5) scale(1,1.04)" font-size="19.3">intron K C</text>
<text transform="translate(854.67,1427) scale(1,1.04)" font-size="19.3">n=34</text>
<text transform="translate(945.85,1381.1) scale(1,1.04)" font-size="19.3">Leu34</text>
<text transform="translate(931.05,1404.5) scale(1,1.04)" font-size="19.3">intron K G</text>
<text transform="translate(950.62,1427) scale(1,1.04)" font-size="19.3">n=29</text>
<text transform="translate(545,1352.5) rotate(-90) scale(1,1.04)" font-size="25.5">FXIII antigen (mg/L)</text>
</svg>
</body></html>
